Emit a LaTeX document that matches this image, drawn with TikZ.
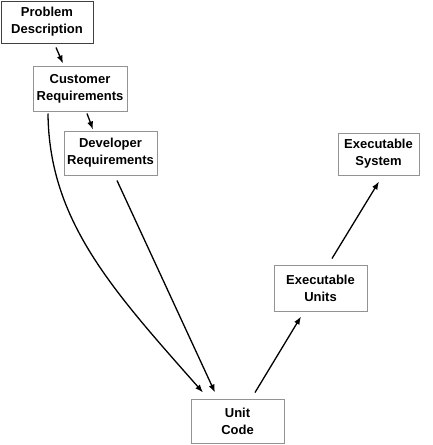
\documentclass[tikz,border=0pt]{standalone}
\usepackage{fontspec}
\setmainfont{Liberation Sans}
\usepackage{tikz}
\usetikzlibrary{arrows.meta, positioning, calc}
\tikzset{
  stage/.style={rectangle,draw=gray!85,line width=1pt,fill=white,font=\fontsize{13}{17}\selectfont\bfseries,align=center,minimum width=93pt,minimum height=44pt,inner sep=0pt},
  stage_top/.style={stage,draw=black!75},
  flow/.style={line width=1.3pt,-{Latex[length=8pt,width=6pt]},black},
}
\begin{document}
\begin{tikzpicture}[x=1pt,y=-1pt]
	    \useasboundingbox (0,0) rectangle (432,445);
	    \node[stage_top,minimum width=92pt,minimum height=42pt] (PD) at (47,22) {Problem\\Description};
	    \node[stage,minimum width=94pt,minimum height=45pt] (CR) at (80,88.5) {Customer\\Requirements};
	    \node[stage] (DR) at (110.5,153) {Developer\\Requirements};
	    \node[stage] (UC) at (237.5,421.5) {Unit\\Code};
	    \node[stage,minimum height=46pt] (EU) at (320.5,288) {Executable\\Units};
	    \node[stage,minimum width=81pt,minimum height=42pt] (ES) at (378.5,154) {Executable\\System};
	    \draw[flow] ($(PD.south)+(9,4)$) -- ($(CR.north)+(-17,-2)$);
	    \draw[flow] ($(CR.south)+(7,2)$) -- ($(DR.north)+(-17.5,-1)$);
	    \draw[flow] ($(CR.south)+(-32,2)$) .. controls +(1,107) and +(-91,-103) .. ($(UC.north)+(-34.5,-6.5)$);
	    \draw[flow] ($(DR.south)+(6.5,5)$) -- ($(UC.north)+(-22.5,-6.5)$);
	    \draw[flow] ($(UC.north)+(17.5,-6.5)$) -- ($(EU.south)+(-19.5,5)$);
	    \draw[flow] ($(EU.north)+(11.5,-6)$) -- ($(ES.south)+(0.5,6)$);
	\end{tikzpicture}
\end{document}
